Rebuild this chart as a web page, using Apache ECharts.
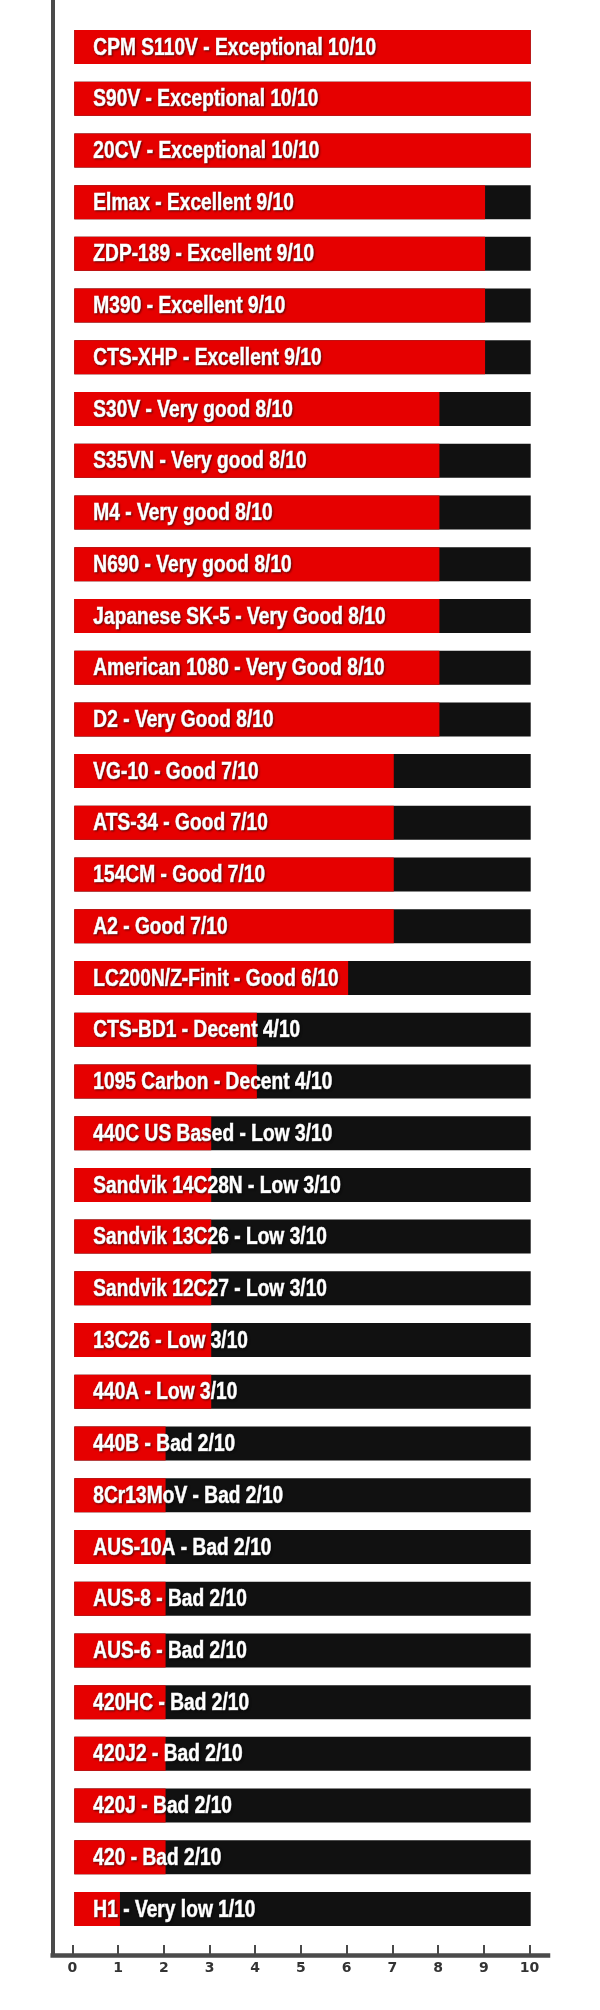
<!DOCTYPE html>
<html>
<head>
<meta charset="utf-8">
<script src="https://cdn.jsdelivr.net/npm/echarts@6/dist/echarts.min.js"></script>
<style>
html,body{margin:0;padding:0;background:#fff;}
#chart{width:600px;height:2010px;}
</style>
</head>
<body>
<div id="chart"></div>
<script>
const categories = [
  "CPM S110V - Exceptional 10/10",
  "S90V - Exceptional 10/10",
  "20CV - Exceptional 10/10",
  "Elmax - Excellent 9/10",
  "ZDP-189 - Excellent 9/10",
  "M390 - Excellent 9/10",
  "CTS-XHP - Excellent 9/10",
  "S30V - Very good 8/10",
  "S35VN - Very good 8/10",
  "M4 - Very good 8/10",
  "N690 - Very good 8/10",
  "Japanese SK-5 - Very Good 8/10",
  "American 1080 - Very Good 8/10",
  "D2 - Very Good 8/10",
  "VG-10 - Good 7/10",
  "ATS-34 - Good 7/10",
  "154CM - Good 7/10",
  "A2 - Good 7/10",
  "LC200N/Z-Finit - Good 6/10",
  "CTS-BD1 - Decent 4/10",
  "1095 Carbon - Decent 4/10",
  "440C US Based - Low 3/10",
  "Sandvik 14C28N - Low 3/10",
  "Sandvik 13C26 - Low 3/10",
  "Sandvik 12C27 - Low 3/10",
  "13C26 - Low 3/10",
  "440A - Low 3/10",
  "440B - Bad 2/10",
  "8Cr13MoV - Bad 2/10",
  "AUS-10A - Bad 2/10",
  "AUS-8 - Bad 2/10",
  "AUS-6 - Bad 2/10",
  "420HC - Bad 2/10",
  "420J2 - Bad 2/10",
  "420J - Bad 2/10",
  "420 - Bad 2/10",
  "H1 - Very low 1/10"
];
const scores = [10,10,10,9,9,9,9,8,8,8,8,8,8,8,7,7,7,7,6,4,4,3,3,3,3,3,3,2,2,2,2,2,2,2,2,2,1];
const scoreMax = 10;
const tickValues = [0,1,2,3,4,5,6,7,8,9,10];

const axisColor = '#4a4a4a';
const chart = echarts.init(document.getElementById('chart'), null, {renderer:'canvas'});
chart.setOption({
  animation: false,
  grid: [
    {left: 74.3, right: 69.3, top: 21.1, bottom: 75.1},
    {left: 52.7, right: 52, top: 0, bottom: 55}
  ],
  xAxis: [
    {gridIndex: 0, type: 'value', min: 0, max: scoreMax, show: false},
    {gridIndex: 1, type: 'value', min: -0.431, max: 10.405,
      axisLine: {show: true, onZero: false, lineStyle: {color: axisColor, width: 4.5, cap: 'square'}},
      axisTick: {show: true, inside: true, length: 10, customValues: tickValues, lineStyle: {color: axisColor, width: 2}},
      axisLabel: {show: true, customValues: tickValues, margin: 6, color: '#333333', fontSize: 14, fontWeight: 'bold', fontFamily: '"DejaVu Sans", sans-serif'},
      splitLine: {show: false}}
  ],
  yAxis: [
    {gridIndex: 0, type: 'category', data: categories, inverse: true, show: false},
    {gridIndex: 1, type: 'value', min: 0, max: 1,
      axisLine: {show: true, onZero: false, lineStyle: {color: axisColor, width: 4, cap: 'square'}},
      axisTick: {show: false}, axisLabel: {show: false}, splitLine: {show: false}}
  ],
  series: [{
    type: 'bar',
    xAxisIndex: 0, yAxisIndex: 0,
    data: scores,
    barWidth: 34,
    z: 2,
    itemStyle: {color: '#e60000'},
    showBackground: true,
    backgroundStyle: {color: '#111111', opacity: 1}
  }, {
    type: 'custom',
    xAxisIndex: 0, yAxisIndex: 0,
    z: 5,
    silent: true,
    data: categories.map((c, i) => [0, i]),
    encode: {x: 0, y: 1},
    renderItem: function (params, api) {
      const pt = api.coord([api.value(0), api.value(1)]);
      return {
        type: 'text',
        x: pt[0] + 19,
        y: pt[1] + 1,
        scaleX: 0.8,
        style: {
          text: categories[params.dataIndex],
          fill: '#ffffff',
          stroke: '#ffffff',
          lineWidth: 0.7,
          font: 'bold 24px "Liberation Sans", Arial, sans-serif',
          textAlign: 'left',
          textVerticalAlign: 'middle',
          verticalAlign: 'middle',
          textShadowColor: 'rgba(0,0,0,0.5)',
          textShadowBlur: 2,
          textShadowOffsetX: 1,
          textShadowOffsetY: 1
        }
      };
    }
  }]
});
</script>
</body>
</html>
